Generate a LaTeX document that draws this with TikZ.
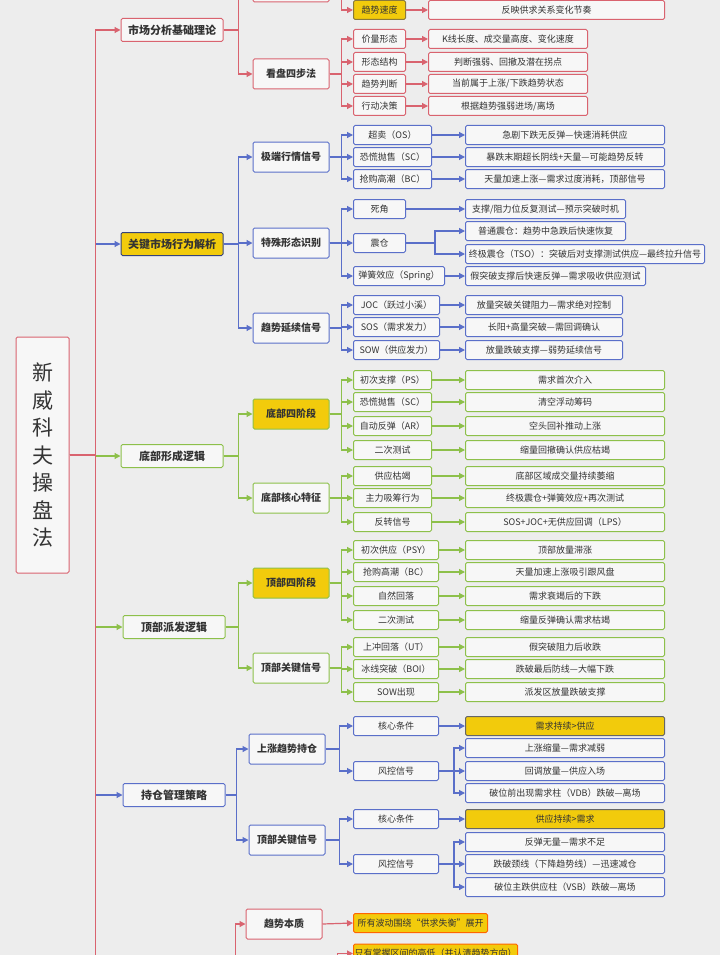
\documentclass[tikz,border=0pt]{standalone}
\usepackage{fontspec}
\setmainfont{Noto Sans CJK SC}
\usetikzlibrary{arrows.meta}
\definecolor{bgc}{HTML}{EDEDED}
\definecolor{lred}{HTML}{D9636F}
\definecolor{lblue}{HTML}{5A6FC9}
\definecolor{lgreen}{HTML}{8DC04A}
\definecolor{hl}{HTML}{F2CB0C}
\definecolor{boxc}{HTML}{F7F7F7}
\definecolor{hlline}{HTML}{8A7A3A}

\begin{document}
\begin{tikzpicture}[x=1pt, y=-1pt, >={Triangle[length=6pt,width=6pt]}, line width=1.2pt,
  box/.style={draw, rounded corners=1.5pt, fill=boxc, inner sep=0pt, line width=1pt,
    text=black!80, font=\fontsize{9}{10}\selectfont},
  lone/.style={box, minimum width=102pt, minimum height=23pt, font=\fontsize{11}{12}\selectfont\bfseries},
  ltwo/.style={box, minimum width=76pt, minimum height=30pt, font=\fontsize{10}{11}\selectfont\bfseries},
  leaf/.style={box, anchor=west, minimum height=19pt, minimum width=#1},
  leaf/.default=52pt,
  hot/.style={fill=hl}]

\useasboundingbox (0,0) rectangle (720,955);
\fill[bgc] (0,0) rectangle (720,955);
\clip (0,0) rectangle (720,955);

% root
\node[box, draw=lred, minimum width=53pt, minimum height=236pt, align=center,
  font=\fontsize{21}{27.5}\selectfont] (root) at (42.5,455) {新\\威\\科\\夫\\操\\盘\\法};

% level one
\node[lone, draw=lred] (ma) at (172,30) {市场分析基础理论};
\node[lone, hot, draw=lblue!60!black] (kb) at (172,244) {关键市场行为解析};
\node[lone, draw=lgreen] (bf) at (172,456) {底部形成逻辑};
\node[lone, draw=lgreen] (td) at (174,627) {顶部派发逻辑};
\node[lone, draw=lblue] (cc) at (174,795) {持仓管理策略};
\node[lone, draw=lred] (lx) at (172,990) {};

% level two
\node[ltwo, draw=lred] (t0) at (291,-13) {};
\node[ltwo, draw=lred] (kp) at (291,74) {看盘四步法};
\node[ltwo, draw=lblue] (jd) at (291,157) {极端行情信号};
\node[ltwo, draw=lblue] (ts) at (291,243) {特殊形态识别};
\node[ltwo, draw=lblue] (yx) at (291,328) {趋势延续信号};
\node[ltwo, hot, draw=lgreen] (dj) at (291,414) {底部四阶段};
\node[ltwo, draw=lgreen] (dh) at (291,498) {底部核心特征};
\node[ltwo, hot, draw=lgreen] (tj) at (291,583) {顶部四阶段};
\node[ltwo, draw=lgreen] (tg) at (291,668) {顶部关键信号};
\node[ltwo, draw=lblue] (sz) at (287,749) {上涨趋势持仓};
\node[ltwo, draw=lblue] (dg) at (287,840) {顶部关键信号};
\node[ltwo, draw=lred] (bz) at (284,924) {趋势本质};
\node[ltwo, draw=lred] (b2) at (284,990) {};

% market basics
\node[leaf, draw=lred] (a0) at (353,-10) {};
\node[leaf=159pt, draw=lred] (a0-r) at (428,-10) {};
\node[leaf, hot, draw=hlline] (a1) at (353,10) {趋势速度};
\node[leaf=236pt, draw=lred] (a1-r) at (428,10) {反映供求关系变化节奏};
\node[leaf, draw=lred] (k1) at (353,39) {价量形态};
\node[leaf=159pt, draw=lred] (k1-r) at (428,39) {K线长度、成交量高度、变化速度};
\node[leaf, draw=lred] (k2) at (353,62) {形态结构};
\node[leaf=159pt, draw=lred] (k2-r) at (428,62) {判断强弱、回撤及潜在拐点};
\node[leaf, draw=lred] (k3) at (353,84) {趋势判断};
\node[leaf=159pt, draw=lred] (k3-r) at (428,84) {当前属于上涨/下跌趋势状态};
\node[leaf, draw=lred] (k4) at (353,106) {行动决策};
\node[leaf=159pt, draw=lred] (k4-r) at (428,106) {根据趋势强弱进场/离场};

% key behaviour
\node[leaf=78pt, draw=lblue] (j1) at (353,135) {超卖（OS）};
\node[leaf=199pt, draw=lblue] (j1-r) at (465,135) {急剧下跌无反弹—快速消耗供应};
\node[leaf=78pt, draw=lblue] (j2) at (353,157) {恐慌抛售（SC）};
\node[leaf=199pt, draw=lblue] (j2-r) at (465,157) {暴跌末期超长阴线+天量—可能趋势反转};
\node[leaf=78pt, draw=lblue] (j3) at (353,179) {抢购高潮（BC）};
\node[leaf=199pt, draw=lblue] (j3-r) at (465,179) {天量加速上涨—需求过度消耗，顶部信号};
\node[leaf, draw=lblue] (s1) at (353,209) {死角};
\node[leaf=160pt, draw=lblue] (s1-r) at (465,209) {支撑/阻力位反复测试—预示突破时机};
\node[leaf, draw=lblue] (s2) at (353,243) {震仓};
\node[leaf=160pt, draw=lblue] (s2-a) at (465,231) {普通震仓：趋势中急跌后快速恢复};
\node[leaf=239pt, draw=lblue] (s2-b) at (465,254) {终极震仓（TSO）：突破后对支撑测试供应—最终拉升信号};
\node[leaf=91pt, draw=lblue] (s3) at (353,276) {弹簧效应（Spring）};
\node[leaf=180pt, draw=lblue] (s3-r) at (465,276) {假突破支撑后快速反弹—需求吸收供应测试};
\node[leaf=86pt, draw=lblue] (y1) at (353,305) {JOC（跃过小溪）};
\node[leaf=157pt, draw=lblue] (y1-r) at (465,305) {放量突破关键阻力—需求绝对控制};
\node[leaf=86pt, draw=lblue] (y2) at (353,327) {SOS（需求发力）};
\node[leaf=157pt, draw=lblue] (y2-r) at (465,327) {长阳+高量突破—需回调确认};
\node[leaf=86pt, draw=lblue] (y3) at (353,350) {SOW（供应发力）};
\node[leaf=157pt, draw=lblue] (y3-r) at (465,350) {放量跌破支撑—弱势延续信号};

% bottom
\node[leaf=78pt, draw=lgreen] (d1) at (353,380) {初次支撑（PS）};
\node[leaf=199pt, draw=lgreen] (d1-r) at (465,380) {需求首次介入};
\node[leaf=78pt, draw=lgreen] (d2) at (353,402) {恐慌抛售（SC）};
\node[leaf=199pt, draw=lgreen] (d2-r) at (465,402) {清空浮动筹码};
\node[leaf=78pt, draw=lgreen] (d3) at (353,426) {自动反弹（AR）};
\node[leaf=199pt, draw=lgreen] (d3-r) at (465,426) {空头回补推动上涨};
\node[leaf=78pt, draw=lgreen] (d4) at (353,450) {二次测试};
\node[leaf=199pt, draw=lgreen] (d4-r) at (465,450) {缩量回撤确认供应枯竭};
\node[leaf=78pt, draw=lgreen] (h1) at (353,476) {供应枯竭};
\node[leaf=199pt, draw=lgreen] (h1-r) at (465,476) {底部区域成交量持续萎缩};
\node[leaf=78pt, draw=lgreen] (h2) at (353,498) {主力吸筹行为};
\node[leaf=199pt, draw=lgreen] (h2-r) at (465,498) {终极震仓+弹簧效应+再次测试};
\node[leaf=78pt, draw=lgreen] (h3) at (353,522) {反转信号};
\node[leaf=199pt, draw=lgreen] (h3-r) at (465,522) {SOS+JOC+无供应回调（LPS）};

% top
\node[leaf=85pt, draw=lgreen] (p1) at (353,550) {初次供应（PSY）};
\node[leaf=199pt, draw=lgreen] (p1-r) at (465,550) {顶部放量滞涨};
\node[leaf=85pt, draw=lgreen] (p2) at (353,572) {抢购高潮（BC）};
\node[leaf=199pt, draw=lgreen] (p2-r) at (465,572) {天量加速上涨吸引跟风盘};
\node[leaf=85pt, draw=lgreen] (p3) at (353,596) {自然回落};
\node[leaf=199pt, draw=lgreen] (p3-r) at (465,596) {需求衰竭后的下跌};
\node[leaf=85pt, draw=lgreen] (p4) at (353,620) {二次测试};
\node[leaf=199pt, draw=lgreen] (p4-r) at (465,620) {缩量反弹确认需求枯竭};
\node[leaf=85pt, draw=lgreen] (g1) at (353,647) {上冲回落（UT）};
\node[leaf=199pt, draw=lgreen] (g1-r) at (465,647) {假突破阻力后收跌};
\node[leaf=85pt, draw=lgreen] (g2) at (353,669) {冰线突破（BOI）};
\node[leaf=199pt, draw=lgreen] (g2-r) at (465,669) {跌破最后防线—大幅下跌};
\node[leaf=85pt, draw=lgreen] (g3) at (353,692) {SOW出现};
\node[leaf=199pt, draw=lgreen] (g3-r) at (465,692) {派发区放量跌破支撑};

% holding
\node[leaf=85pt, draw=lblue] (c1) at (353,726) {核心条件};
\node[leaf=199pt, hot, draw=black!60] (c1-r) at (465,726) {需求持续>供应};
\node[leaf=85pt, draw=lblue] (c2) at (353,771) {风控信号};
\node[leaf=199pt, draw=lblue] (c2-a) at (465,748) {上涨缩量—需求减弱};
\node[leaf=199pt, draw=lblue] (c2-b) at (465,771) {回调放量—供应入场};
\node[leaf=199pt, draw=lblue] (c2-c) at (465,793) {破位前出现需求柱（VDB）跌破—离场};
\node[leaf=85pt, draw=lblue] (e1) at (353,819) {核心条件};
\node[leaf=199pt, hot, draw=black!60] (e1-r) at (465,819) {供应持续>需求};
\node[leaf=85pt, draw=lblue] (e2) at (353,864) {风控信号};
\node[leaf=199pt, draw=lblue] (e2-a) at (465,842) {反弹无量—需求不足};
\node[leaf=199pt, draw=lblue] (e2-b) at (465,864) {跌破颈线（下降趋势线）—迅速减仓};
\node[leaf=199pt, draw=lblue] (e2-c) at (465,887) {破位主跌供应柱（VSB）跌破—离场};

% essence
\node[leaf=134pt, hot, draw=orange!80!red] (z1) at (353,923) {所有波动围绕“供求失衡”展开};
\node[leaf=164pt, hot, draw=orange!80!red] (z2) at (353,953.5) {只有掌握区间的高低（并认清趋势方向）};
\node[leaf=134pt, hot, draw=orange!80!red] (z3) at (353,990) {};

% connectors: trunk
\foreach \n in {bf,td} \draw[lgreen,->] (root.east) -- ++(26,0) |- (\n.west);
\foreach \n in {kb,cc} \draw[lblue,->] (root.east) -- ++(26,0) |- (\n.west);
\foreach \n in {ma,lx} \draw[lred,->] (root.east) -- ++(26,0) |- (\n.west);

% level one to two
\foreach \n in {t0,kp} \draw[lred,->] (ma.east) -- ++(15,0) |- (\n.west);
\foreach \n in {jd,ts,yx} \draw[lblue,->] (kb.east) -- ++(15,0) |- (\n.west);
\foreach \n in {dj,dh} \draw[lgreen,->] (bf.east) -- ++(15,0) |- (\n.west);
\foreach \n in {tj,tg} \draw[lgreen,->] (td.east) -- ++(13,0) |- (\n.west);
\foreach \n in {sz,dg} \draw[lblue,->] (cc.east) -- ++(11,0) |- (\n.west);
\foreach \n in {bz,b2} \draw[lred,->] (lx.east) -- ++(12,0) |- (\n.west);

% level two to three
\foreach \n in {a0,a1} \draw[lred,->] (t0.east) -- ++(12,0) |- (\n.west);
\foreach \n in {k1,k2,k3,k4} \draw[lred,->] (kp.east) -- ++(12,0) |- (\n.west);
\foreach \n in {j1,j2,j3} \draw[lblue,->] (jd.east) -- ++(12,0) |- (\n.west);
\foreach \n in {s1,s2,s3} \draw[lblue,->] (ts.east) -- ++(12,0) |- (\n.west);
\foreach \n in {y1,y2,y3} \draw[lblue,->] (yx.east) -- ++(12,0) |- (\n.west);
\foreach \n in {d1,d2,d3,d4} \draw[lgreen,->] (dj.east) -- ++(12,0) |- (\n.west);
\foreach \n in {h1,h2,h3} \draw[lgreen,->] (dh.east) -- ++(12,0) |- (\n.west);
\foreach \n in {p1,p2,p3,p4} \draw[lgreen,->] (tj.east) -- ++(12,0) |- (\n.west);
\foreach \n in {g1,g2,g3} \draw[lgreen,->] (tg.east) -- ++(12,0) |- (\n.west);
\foreach \n in {c1,c2} \draw[lblue,->] (sz.east) -- ++(14,0) |- (\n.west);
\foreach \n in {e1,e2} \draw[lblue,->] (dg.east) -- ++(14,0) |- (\n.west);
\draw[lred,->] (bz.east) -- (z1.west);
\foreach \n in {z2,z3} \draw[lred,->] (b2.east) -- ++(15,0) |- (\n.west);

% level three to notes
\foreach \n in {a0,a1,k1,k2,k3,k4} \draw[lred,->] (\n.east) -- (\n-r.west);
\foreach \n in {j1,j2,j3,s1,s3,y1,y2,y3,c1,e1} \draw[lblue,->] (\n.east) -- (\n-r.west);
\foreach \n in {d1,d2,d3,d4,h1,h2,h3,p1,p2,p3,p4,g1,g2,g3} \draw[lgreen,->] (\n.east) -- (\n-r.west);
\foreach \n in {a,b} \draw[lblue,->] (s2.east) -- ++(29,0) |- (s2-\n.west);
\foreach \n in {a,b,c} \draw[lblue,->] (c2.east) -- ++(15,0) |- (c2-\n.west);
\foreach \n in {a,b,c} \draw[lblue,->] (e2.east) -- ++(15,0) |- (e2-\n.west);
\end{tikzpicture}
\end{document}
